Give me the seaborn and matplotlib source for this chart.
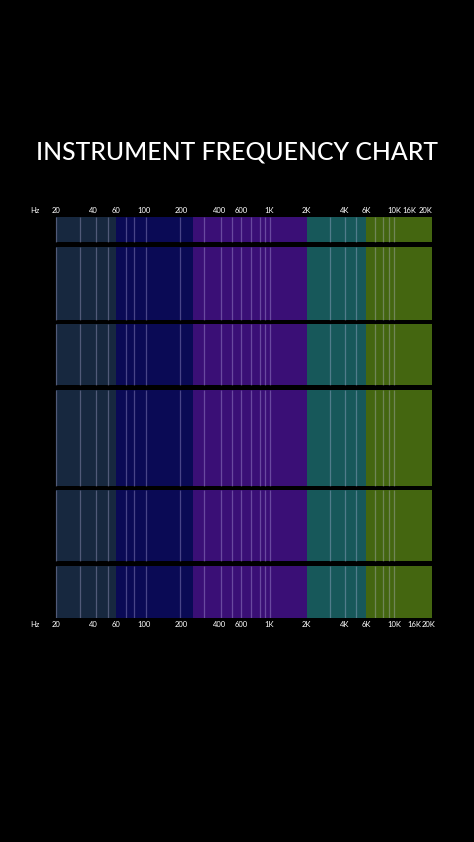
import numpy as np
import matplotlib
matplotlib.use('Agg')
import matplotlib.pyplot as plt
import matplotlib.transforms as mtransforms
import seaborn as sns

# frequency bands (Hz)
band_edges = [20, 60, 250, 2000, 6000, 20000]
band_colors = ['#17283f', '#0a0a55', '#3a0f76', '#17585a', '#446610']

# thin marker lines inside the bands (Hz)
line_freqs = [20, 31, 41.5, 52.5,
              73, 84, 105, 195,
              302, 413, 504, 604, 714, 856, 938, 1028,
              3070, 4020, 4920,
              6960, 8190, 9140, 10020]

# rows (heights in px of the original graphic)
row_heights = [25, 73, 61, 96, 71, 52]
row_gap = 4.5

tick_vals = [20, 40, 60, 100, 200, 400, 600, 1000, 2000, 4000, 6000, 10000, 16000, 20000]
tick_labels = ['20', '40', '60', '100', '200', '400', '600', '1K', '2K', '4K', '6K', '10K', '16K', '20K']

sns.set_theme(style='dark', rc={
    'figure.facecolor': 'black',
    'axes.facecolor': 'black',
    'axes.edgecolor': 'black',
    'text.color': 'white',
    'xtick.color': 'white',
})
plt.rcParams['font.family'] = ['Lato', 'DejaVu Sans']

fig = plt.figure(figsize=(4.74, 8.42), dpi=100)
ax = fig.add_axes([54 / 474, 1 - 618 / 842, (432 - 54) / 474, (618 - 217) / 842])
ax.set_xscale('log')

# draw rows
y = 0
for h in row_heights:
    for i, c in enumerate(band_colors):
        ax.barh(y, band_edges[i + 1] - band_edges[i], left=band_edges[i], height=h,
                align='edge', color=c, linewidth=0)
    ax.vlines(line_freqs, y, y + h, colors='#d8d0ff', alpha=0.3, linewidth=0.9)
    y += h + row_gap
total = y - row_gap

ax.set_xlim(19.3, 18900)
ax.set_ylim(total, 0)
ax.set_yticks([])
ax.set_xticks(tick_vals)
ax.set_xticklabels(tick_labels)
ax.minorticks_off()
ax.tick_params(axis='x', which='both', length=0, labelsize=5.5, pad=2.5,
               top=True, labeltop=True, bottom=True, labelbottom=True)
for s in ax.spines.values():
    s.set_visible(False)
ax.grid(False)

# squeeze the last two labels apart like the original
nudge = {'16K': -5, '20K': -3}
for lab in ax.get_xticklabels(which='major') + [t.label2 for t in ax.xaxis.get_major_ticks()]:
    txt = lab.get_text()
    if txt in nudge:
        lab.set_transform(lab.get_transform() + mtransforms.ScaledTranslation(nudge[txt] / 100, 0, fig.dpi_scale_trans))

for yy, va, dy in [(1, 'bottom', 2.5), (0, 'top', -2.5)]:
    ax.annotate('Hz', xy=(0, yy), xycoords='axes fraction', xytext=(-14, dy),
                textcoords='offset points', fontsize=5.5, color='white',
                ha='center', va=va)

fig.text(0.5, 1 - 152 / 842, 'INSTRUMENT FREQUENCY CHART', ha='center', va='center',
         fontsize=17.8, color='white', fontweight='medium')

fig.savefig('out.png', dpi=100, facecolor='black')
